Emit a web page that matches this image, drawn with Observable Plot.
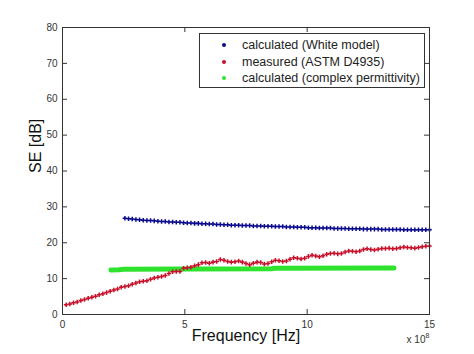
<!DOCTYPE html>
<html>
<head>
<meta charset="utf-8">
<script src="https://cdn.jsdelivr.net/npm/d3@7"></script>
<script src="https://cdn.jsdelivr.net/npm/@observablehq/plot@0.6"></script>
<style>
  html, body { margin: 0; padding: 0; background: #fff; }
  #wrap { position: relative; width: 474px; height: 354px; font-family: "Liberation Sans", Arial, sans-serif; }
  #legend { position: absolute; left: 199px; top: 33px; width: 226px; height: 55px; box-sizing: border-box;
            border: 1px solid #333; background: #fff; font-size: 12.5px; color: #222; }
  .row { position: absolute; left: 0; height: 16px; line-height: 16px; white-space: nowrap; }
  .row .mk { position: absolute; left: 22px; top: 6px; width: 4px; height: 4px; border-radius: 2px; }
  .row .tx { position: absolute; left: 42px; top: 0; }
</style>
</head>
<body>
<div id="wrap">
  <div id="chart"></div>
  <div id="legend"></div>
</div>
<script>
// Frequency in units of 1e8 Hz
const seriesNames = ["calculated (White model)", "measured (ASTM D4935)", "calculated (complex permittivity)"];
const seriesColors = ["#0a0a8f", "#c8102a", "#2ee22e"];

// measured (ASTM D4935): starts at 0.15, step 0.15
const measuredStart = 0.15, measuredStep = 0.15;
const measuredSE = [
  2.7, 2.9, 3.3, 3.5, 3.9, 4.2, 4.5, 4.8, 5.1, 5.5,
  5.8, 6.1, 6.5, 6.8, 7.1, 7.6, 7.8, 8.0, 8.4, 8.8,
  9.1, 9.3, 9.4, 9.8, 10.2, 10.4, 10.6, 10.9, 11.4, 11.9,
  12.0, 12.0, 12.9, 13.0, 13.2, 13.6, 13.9, 14.4, 14.5, 14.3,
  14.6, 14.8, 15.3, 15.1, 14.8, 14.6, 14.7, 14.9, 14.6, 14.2,
  13.9, 14.3, 14.6, 14.5, 14.1, 14.2, 14.7, 15.1, 15.0, 14.8,
  14.9, 15.4, 15.8, 15.7, 15.5, 15.7, 16.2, 16.5, 16.3, 16.1,
  16.4, 16.8, 17.0, 17.1, 16.9, 17.0, 17.4, 17.7, 17.6, 17.5,
  17.7, 18.1, 18.3, 18.1, 18.0, 18.2, 18.4, 18.4, 18.5, 18.3,
  18.4, 18.6, 18.8, 18.7, 18.6, 18.5, 18.7, 18.9, 19.0, 19.1
];

// calculated (White model): starts at 2.55, step 0.15
const whiteStart = 2.55, whiteStep = 0.15;
const whiteSE = [
  26.8, 26.7, 26.6, 26.5, 26.4, 26.3, 26.2, 26.2, 26.1, 26.0,
  25.9, 25.9, 25.8, 25.8, 25.7, 25.7, 25.6, 25.5, 25.5, 25.4,
  25.4, 25.3, 25.3, 25.2, 25.2, 25.1, 25.1, 25.0, 25.0, 24.9,
  24.9, 24.9, 24.8, 24.8, 24.8, 24.7, 24.7, 24.7, 24.6, 24.6,
  24.6, 24.5, 24.5, 24.5, 24.4, 24.4, 24.4, 24.3, 24.3, 24.3,
  24.2, 24.2, 24.2, 24.1, 24.1, 24.1, 24.1, 24.0, 24.0, 24.0,
  24.0, 23.9, 23.9, 23.9, 23.9, 23.8, 23.8, 23.8, 23.8, 23.8,
  23.7, 23.7, 23.7, 23.7, 23.7, 23.7, 23.6, 23.6, 23.6, 23.6,
  23.6, 23.6, 23.6, 23.6
];

// calculated (complex permittivity): dense points, read as breakpoints
const permFreq = [1.98, 2.3, 2.5, 5.0, 8.55, 8.65, 13.55];
const permSE   = [12.4, 12.5, 12.6, 12.7, 12.75, 12.9, 12.95];

const xTicks = [0, 5, 10, 15];
const yTicks = [0, 10, 20, 30, 40, 50, 60, 70, 80];
const xLabel = "Frequency [Hz]";
const yLabel = "SE [dB]";
const xExpBase = "x 10";
const xExpPower = "8";

const measured = measuredSE.map((v, i) => ({f: measuredStart + i * measuredStep, se: v}));
const white = whiteSE.map((v, i) => ({f: whiteStart + i * whiteStep, se: v}));
const perm = permSE.map((v, i) => ({f: permFreq[i], se: v}));

const W = 474, H = 354, mL = 62, mR = 45, mT = 27, mB = 40;
const plotW = W - mL - mR, plotH = H - mT - mB;
const tickLen = 5;

const chart = Plot.plot({
  width: W, height: H,
  marginLeft: mL, marginRight: mR, marginTop: mT, marginBottom: mB,
  x: {domain: [0, 15]},
  y: {domain: [0, 80]},
  style: {fontFamily: "Liberation Sans, Arial, sans-serif", fontSize: "10px", color: "#333", background: "#fff", overflow: "visible"},
  marks: [
    Plot.ruleX(xTicks, {x: d => d, insetTop: plotH - tickLen, stroke: "#333"}),
    Plot.ruleX(xTicks, {x: d => d, insetBottom: plotH - tickLen, stroke: "#333"}),
    Plot.ruleY(yTicks, {y: d => d, insetRight: plotW - tickLen, stroke: "#333"}),
    Plot.ruleY(yTicks, {y: d => d, insetLeft: plotW - tickLen, stroke: "#333"}),
    Plot.axisX({ticks: xTicks, tickSize: 0, tickPadding: 6, label: null, fill: "#333"}),
    Plot.axisY({ticks: yTicks, tickSize: 0, tickPadding: 5, label: null, fill: "#333"}),
    Plot.line(perm, {x: "f", y: "se", stroke: seriesColors[2], strokeWidth: 5, strokeLinecap: "round"}),
    Plot.dot(measured, {x: "f", y: "se", symbol: "cross", r: 1.9, fill: seriesColors[1], stroke: "none"}),
    Plot.dot(white, {x: "f", y: "se", symbol: "cross", r: 1.9, fill: seriesColors[0], stroke: "none"}),
    Plot.frame({stroke: "#333"}),
    Plot.text([yLabel], {text: d => d, frameAnchor: "left", dx: -27, dy: 2, rotate: -90, fontSize: 16, fill: "#111"}),
    Plot.text([xLabel], {text: d => d, frameAnchor: "bottom", dy: 26, fontSize: 16, fill: "#111"}),
    Plot.text([xExpBase], {text: d => d, frameAnchor: "bottom-right", textAnchor: "end", dx: -4, dy: 28, fontSize: 10, fill: "#333"}),
    Plot.text([xExpPower], {text: d => d, frameAnchor: "bottom-right", textAnchor: "start", dx: -4, dy: 23, fontSize: 7, fill: "#333"})
  ]
});
document.getElementById("chart").appendChild(chart);

const legend = document.getElementById("legend");
const rowTops = [3, 19.5, 36];
[0, 1, 2].forEach((k, i) => {
  const row = document.createElement("div");
  row.className = "row";
  row.style.top = rowTops[i] + "px";
  const mk = document.createElement("span");
  mk.className = "mk";
  mk.style.background = seriesColors[k];
  const tx = document.createElement("span");
  tx.className = "tx";
  tx.textContent = seriesNames[k];
  row.appendChild(mk); row.appendChild(tx);
  legend.appendChild(row);
});
</script>
</body>
</html>
